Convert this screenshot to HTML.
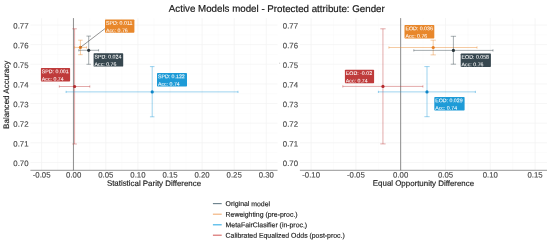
<!DOCTYPE html>
<html><head><meta charset="utf-8"><title>Active Models model - Protected attribute: Gender</title>
<style>html,body{margin:0;padding:0;background:#fff;}body{width:550px;height:243px;overflow:hidden;font-family:"Liberation Sans", sans-serif;}svg{display:block;text-rendering:geometricPrecision}</style>
</head><body>
<svg width="550" height="243" viewBox="0 0 550 243" font-family='"Liberation Sans", sans-serif'>
<rect width="550" height="243" fill="#ffffff"/>
<text transform="matrix(1 0.001 0 1 276.80 11.90)" font-size="9.74" text-anchor="middle" fill="#1a1a1a" stroke="#1a1a1a" stroke-width="0.2">Active Models model - Protected attribute: Gender</text>
<text transform="translate(8.9,94.8) rotate(-90.02)" font-size="8.03" text-anchor="middle" fill="#1a1a1a" stroke="#1a1a1a" stroke-width="0.15">Balanced Accuracy</text>
<path d="M30.4 152.62H277.5M30.4 132.99H277.5M30.4 113.36H277.5M30.4 93.73H277.5M30.4 74.10H277.5M30.4 54.47H277.5M30.4 34.83H277.5M57.65 18.1V170.3M89.75 18.1V170.3M121.85 18.1V170.3M153.95 18.1V170.3M186.05 18.1V170.3M218.15 18.1V170.3M250.25 18.1V170.3" stroke="#f8f8f8" stroke-width="0.5" fill="none"/>
<path d="M30.4 162.43H277.5M30.4 142.80H277.5M30.4 123.17H277.5M30.4 103.54H277.5M30.4 83.91H277.5M30.4 64.28H277.5M30.4 44.65H277.5M30.4 25.02H277.5M41.60 18.1V170.3M73.70 18.1V170.3M105.80 18.1V170.3M137.90 18.1V170.3M170.00 18.1V170.3M202.10 18.1V170.3M234.20 18.1V170.3M266.30 18.1V170.3" stroke="#f3f3f3" stroke-width="0.75" fill="none"/>
<path d="M30.4 170.3H277.5" stroke="#8a8a8a" stroke-width="0.9" fill="none"/>
<path d="M73.45 18.1V170.3" stroke="#4d4d4d" stroke-width="0.62" fill="none"/>
<text transform="matrix(1 0.001 0 1 28.50 166.03)" font-size="7.8" text-anchor="end" fill="#4d4d4d" stroke="#4d4d4d" stroke-width="0.15">0.70</text>
<text transform="matrix(1 0.001 0 1 28.50 146.40)" font-size="7.8" text-anchor="end" fill="#4d4d4d" stroke="#4d4d4d" stroke-width="0.15">0.71</text>
<text transform="matrix(1 0.001 0 1 28.50 126.77)" font-size="7.8" text-anchor="end" fill="#4d4d4d" stroke="#4d4d4d" stroke-width="0.15">0.72</text>
<text transform="matrix(1 0.001 0 1 28.50 107.14)" font-size="7.8" text-anchor="end" fill="#4d4d4d" stroke="#4d4d4d" stroke-width="0.15">0.73</text>
<text transform="matrix(1 0.001 0 1 28.50 87.51)" font-size="7.8" text-anchor="end" fill="#4d4d4d" stroke="#4d4d4d" stroke-width="0.15">0.74</text>
<text transform="matrix(1 0.001 0 1 28.50 67.88)" font-size="7.8" text-anchor="end" fill="#4d4d4d" stroke="#4d4d4d" stroke-width="0.15">0.75</text>
<text transform="matrix(1 0.001 0 1 28.50 48.25)" font-size="7.8" text-anchor="end" fill="#4d4d4d" stroke="#4d4d4d" stroke-width="0.15">0.76</text>
<text transform="matrix(1 0.001 0 1 28.50 28.62)" font-size="7.8" text-anchor="end" fill="#4d4d4d" stroke="#4d4d4d" stroke-width="0.15">0.77</text>
<text transform="matrix(1 0.001 0 1 41.60 177.60)" font-size="7.8" text-anchor="middle" fill="#4d4d4d" stroke="#4d4d4d" stroke-width="0.15">-0.05</text>
<text transform="matrix(1 0.001 0 1 73.70 177.60)" font-size="7.8" text-anchor="middle" fill="#4d4d4d" stroke="#4d4d4d" stroke-width="0.15">0.00</text>
<text transform="matrix(1 0.001 0 1 105.80 177.60)" font-size="7.8" text-anchor="middle" fill="#4d4d4d" stroke="#4d4d4d" stroke-width="0.15">0.05</text>
<text transform="matrix(1 0.001 0 1 137.90 177.60)" font-size="7.8" text-anchor="middle" fill="#4d4d4d" stroke="#4d4d4d" stroke-width="0.15">0.10</text>
<text transform="matrix(1 0.001 0 1 170.00 177.60)" font-size="7.8" text-anchor="middle" fill="#4d4d4d" stroke="#4d4d4d" stroke-width="0.15">0.15</text>
<text transform="matrix(1 0.001 0 1 202.10 177.60)" font-size="7.8" text-anchor="middle" fill="#4d4d4d" stroke="#4d4d4d" stroke-width="0.15">0.20</text>
<text transform="matrix(1 0.001 0 1 234.20 177.60)" font-size="7.8" text-anchor="middle" fill="#4d4d4d" stroke="#4d4d4d" stroke-width="0.15">0.25</text>
<text transform="matrix(1 0.001 0 1 266.30 177.60)" font-size="7.8" text-anchor="middle" fill="#4d4d4d" stroke="#4d4d4d" stroke-width="0.15">0.30</text>
<text transform="matrix(1 0.001 0 1 153.95 185.90)" font-size="7.9" text-anchor="middle" fill="#1a1a1a" stroke="#1a1a1a" stroke-width="0.15">Statistical Parity Difference</text>
<path d="M59.3 86.5H89.8M59.3 85.4v2.2M89.8 85.4v2.2M74.6 28.8V144.0M72.35 28.8h4.5M72.35 144.0h4.5" stroke="#bf3b3b" stroke-opacity="0.55" stroke-width="0.8" fill="none"/>
<path d="M66.1 91.9H238.0M66.1 90.80000000000001v2.2M238.0 90.80000000000001v2.2M152.2 66.6V116.8M149.95 66.6h4.5M149.95 116.8h4.5" stroke="#1e9bd7" stroke-opacity="0.55" stroke-width="0.8" fill="none"/>
<path d="M74.5 47.4H86.6M74.5 46.3v2.2M86.6 46.3v2.2M80.4 40.2V54.7M78.15 40.2h4.5M78.15 54.7h4.5" stroke="#e8872b" stroke-opacity="0.55" stroke-width="0.8" fill="none"/>
<path d="M78.8 50.3H98.6M78.8 49.199999999999996v2.2M98.6 49.199999999999996v2.2M88.7 36.1V64.3M86.45 36.1h4.5M86.45 64.3h4.5" stroke="#37474f" stroke-opacity="0.55" stroke-width="0.8" fill="none"/>
<circle cx="74.6" cy="86.5" r="1.6" fill="#b52a2e"/>
<circle cx="152.2" cy="91.9" r="1.6" fill="#0d86c8"/>
<circle cx="80.4" cy="47.4" r="1.6" fill="#e67e22"/>
<circle cx="88.7" cy="50.3" r="1.6" fill="#263238"/>
<path d="M80.4 47.4L105 28.6" stroke="#3a3a3a" stroke-width="0.55" fill="none"/>
<rect x="40.9" y="68.1" width="29.20" height="13.40" rx="0.7" fill="#bf3b3b"/>
<text transform="matrix(1 0.001 0 1 41.80 73.30)" font-size="5.25" fill="#ffffff" stroke="#ffffff" stroke-width="0.05">SPD: 0.001</text>
<text transform="matrix(1 0.001 0 1 41.80 80.80)" font-size="5.25" fill="#ffffff" stroke="#ffffff" stroke-width="0.05">Acc: 0.74</text>
<rect x="157.0" y="73.1" width="30.00" height="13.40" rx="0.7" fill="#1e9bd7"/>
<text transform="matrix(1 0.001 0 1 157.90 78.30)" font-size="5.25" fill="#ffffff" stroke="#ffffff" stroke-width="0.05">SPD: 0.122</text>
<text transform="matrix(1 0.001 0 1 157.90 85.80)" font-size="5.25" fill="#ffffff" stroke="#ffffff" stroke-width="0.05">Acc: 0.74</text>
<rect x="105.0" y="19.5" width="29.40" height="13.30" rx="0.7" fill="#e8872b"/>
<text transform="matrix(1 0.001 0 1 105.90 24.70)" font-size="5.25" fill="#ffffff" stroke="#ffffff" stroke-width="0.05">SPD: 0.011</text>
<text transform="matrix(1 0.001 0 1 105.90 32.20)" font-size="5.25" fill="#ffffff" stroke="#ffffff" stroke-width="0.05">Acc: 0.76</text>
<rect x="93.6" y="53.3" width="29.60" height="13.30" rx="0.7" fill="#37474f"/>
<text transform="matrix(1 0.001 0 1 94.50 58.50)" font-size="5.25" fill="#ffffff" stroke="#ffffff" stroke-width="0.05">SPD: 0.024</text>
<text transform="matrix(1 0.001 0 1 94.50 66.00)" font-size="5.25" fill="#ffffff" stroke="#ffffff" stroke-width="0.05">Acc: 0.76</text>
<path d="M299.9 152.62H547.0M299.9 132.99H547.0M299.9 113.36H547.0M299.9 93.73H547.0M299.9 74.10H547.0M299.9 54.47H547.0M299.9 34.83H547.0M333.50 18.1V170.3M378.30 18.1V170.3M423.10 18.1V170.3M467.90 18.1V170.3M512.70 18.1V170.3" stroke="#f8f8f8" stroke-width="0.5" fill="none"/>
<path d="M299.9 162.43H547.0M299.9 142.80H547.0M299.9 123.17H547.0M299.9 103.54H547.0M299.9 83.91H547.0M299.9 64.28H547.0M299.9 44.65H547.0M299.9 25.02H547.0M311.10 18.1V170.3M355.90 18.1V170.3M400.70 18.1V170.3M445.50 18.1V170.3M490.30 18.1V170.3M535.10 18.1V170.3" stroke="#f3f3f3" stroke-width="0.75" fill="none"/>
<path d="M299.9 170.3H547.0" stroke="#8a8a8a" stroke-width="0.9" fill="none"/>
<path d="M400.65 18.1V170.3" stroke="#4d4d4d" stroke-width="0.62" fill="none"/>
<text transform="matrix(1 0.001 0 1 298.00 166.03)" font-size="7.8" text-anchor="end" fill="#4d4d4d" stroke="#4d4d4d" stroke-width="0.15">0.70</text>
<text transform="matrix(1 0.001 0 1 298.00 146.40)" font-size="7.8" text-anchor="end" fill="#4d4d4d" stroke="#4d4d4d" stroke-width="0.15">0.71</text>
<text transform="matrix(1 0.001 0 1 298.00 126.77)" font-size="7.8" text-anchor="end" fill="#4d4d4d" stroke="#4d4d4d" stroke-width="0.15">0.72</text>
<text transform="matrix(1 0.001 0 1 298.00 107.14)" font-size="7.8" text-anchor="end" fill="#4d4d4d" stroke="#4d4d4d" stroke-width="0.15">0.73</text>
<text transform="matrix(1 0.001 0 1 298.00 87.51)" font-size="7.8" text-anchor="end" fill="#4d4d4d" stroke="#4d4d4d" stroke-width="0.15">0.74</text>
<text transform="matrix(1 0.001 0 1 298.00 67.88)" font-size="7.8" text-anchor="end" fill="#4d4d4d" stroke="#4d4d4d" stroke-width="0.15">0.75</text>
<text transform="matrix(1 0.001 0 1 298.00 48.25)" font-size="7.8" text-anchor="end" fill="#4d4d4d" stroke="#4d4d4d" stroke-width="0.15">0.76</text>
<text transform="matrix(1 0.001 0 1 298.00 28.62)" font-size="7.8" text-anchor="end" fill="#4d4d4d" stroke="#4d4d4d" stroke-width="0.15">0.77</text>
<text transform="matrix(1 0.001 0 1 311.10 177.60)" font-size="7.8" text-anchor="middle" fill="#4d4d4d" stroke="#4d4d4d" stroke-width="0.15">-0.10</text>
<text transform="matrix(1 0.001 0 1 355.90 177.60)" font-size="7.8" text-anchor="middle" fill="#4d4d4d" stroke="#4d4d4d" stroke-width="0.15">-0.05</text>
<text transform="matrix(1 0.001 0 1 400.70 177.60)" font-size="7.8" text-anchor="middle" fill="#4d4d4d" stroke="#4d4d4d" stroke-width="0.15">0.00</text>
<text transform="matrix(1 0.001 0 1 445.50 177.60)" font-size="7.8" text-anchor="middle" fill="#4d4d4d" stroke="#4d4d4d" stroke-width="0.15">0.05</text>
<text transform="matrix(1 0.001 0 1 490.30 177.60)" font-size="7.8" text-anchor="middle" fill="#4d4d4d" stroke="#4d4d4d" stroke-width="0.15">0.10</text>
<text transform="matrix(1 0.001 0 1 535.10 177.60)" font-size="7.8" text-anchor="middle" fill="#4d4d4d" stroke="#4d4d4d" stroke-width="0.15">0.15</text>
<text transform="matrix(1 0.001 0 1 423.45 185.90)" font-size="7.9" text-anchor="middle" fill="#1a1a1a" stroke="#1a1a1a" stroke-width="0.15">Equal Opportunity Difference</text>
<path d="M342.8 86.4H422.9M342.8 85.30000000000001v2.2M422.9 85.30000000000001v2.2M382.95 28.8V143.9M380.30 28.8h5.3M380.30 143.9h5.3" stroke="#bf3b3b" stroke-opacity="0.55" stroke-width="0.8" fill="none"/>
<path d="M378.4 91.9H475.4M378.4 90.80000000000001v2.2M475.4 90.80000000000001v2.2M427.0 66.6V116.7M424.35 66.6h5.3M424.35 116.7h5.3" stroke="#1e9bd7" stroke-opacity="0.55" stroke-width="0.8" fill="none"/>
<path d="M388.9 47.5H477.0M388.9 46.4v2.2M477.0 46.4v2.2M433.2 40.2V54.9M430.55 40.2h5.3M430.55 54.9h5.3" stroke="#e8872b" stroke-opacity="0.55" stroke-width="0.8" fill="none"/>
<path d="M413.8 50.4H493.0M413.8 49.3v2.2M493.0 49.3v2.2M453.4 36.3V64.2M450.75 36.3h5.3M450.75 64.2h5.3" stroke="#37474f" stroke-opacity="0.55" stroke-width="0.8" fill="none"/>
<circle cx="382.95" cy="86.4" r="1.6" fill="#b52a2e"/>
<circle cx="427.0" cy="91.9" r="1.6" fill="#0d86c8"/>
<circle cx="433.2" cy="47.5" r="1.6" fill="#e67e22"/>
<circle cx="453.4" cy="50.4" r="1.6" fill="#263238"/>
<rect x="344.9" y="69.8" width="29.20" height="13.40" rx="0.7" fill="#bf3b3b"/>
<text transform="matrix(1 0.001 0 1 345.80 75.00)" font-size="5.25" fill="#ffffff" stroke="#ffffff" stroke-width="0.05">EOD: -0.02</text>
<text transform="matrix(1 0.001 0 1 345.80 82.50)" font-size="5.25" fill="#ffffff" stroke="#ffffff" stroke-width="0.05">Acc: 0.74</text>
<rect x="434.3" y="97.0" width="30.30" height="13.40" rx="0.7" fill="#1e9bd7"/>
<text transform="matrix(1 0.001 0 1 435.20 102.20)" font-size="5.25" fill="#ffffff" stroke="#ffffff" stroke-width="0.05">EOD: 0.029</text>
<text transform="matrix(1 0.001 0 1 435.20 109.70)" font-size="5.25" fill="#ffffff" stroke="#ffffff" stroke-width="0.05">Acc: 0.74</text>
<rect x="404.5" y="25.0" width="29.80" height="13.40" rx="0.7" fill="#e8872b"/>
<text transform="matrix(1 0.001 0 1 405.40 30.20)" font-size="5.25" fill="#ffffff" stroke="#ffffff" stroke-width="0.05">EOD: 0.036</text>
<text transform="matrix(1 0.001 0 1 405.40 37.70)" font-size="5.25" fill="#ffffff" stroke="#ffffff" stroke-width="0.05">Acc: 0.76</text>
<rect x="460.7" y="53.5" width="30.20" height="13.40" rx="0.7" fill="#37474f"/>
<text transform="matrix(1 0.001 0 1 461.60 58.70)" font-size="5.25" fill="#ffffff" stroke="#ffffff" stroke-width="0.05">EOD: 0.058</text>
<text transform="matrix(1 0.001 0 1 461.60 66.20)" font-size="5.25" fill="#ffffff" stroke="#ffffff" stroke-width="0.05">Acc: 0.76</text>
<path d="M212.9 203.6H221.7" stroke="#70858f" stroke-width="1.15" fill="none"/>
<text transform="matrix(1 0.001 0 1 225.60 206.10)" font-size="6.9" fill="#1a1a1a" stroke="#1a1a1a" stroke-width="0.15">Original model</text>
<path d="M212.9 214.2H221.7" stroke="#f2b27c" stroke-width="1.15" fill="none"/>
<text transform="matrix(1 0.001 0 1 225.60 216.70)" font-size="6.9" fill="#1a1a1a" stroke="#1a1a1a" stroke-width="0.15">Reweighting (pre-proc.)</text>
<path d="M212.9 224.8H221.7" stroke="#3db2e7" stroke-width="1.15" fill="none"/>
<text transform="matrix(1 0.001 0 1 225.60 227.30)" font-size="6.9" fill="#1a1a1a" stroke="#1a1a1a" stroke-width="0.15">MetaFairClasifier (in-proc.)</text>
<path d="M212.9 235.2H221.7" stroke="#d76a68" stroke-width="1.15" fill="none"/>
<text transform="matrix(1 0.001 0 1 225.60 237.70)" font-size="6.9" fill="#1a1a1a" stroke="#1a1a1a" stroke-width="0.15">Calibrated Equalized Odds (post-proc.)</text>
<circle cx="279.7" cy="63.1" r="0.45" fill="#777"/>
</svg>
</body></html>
